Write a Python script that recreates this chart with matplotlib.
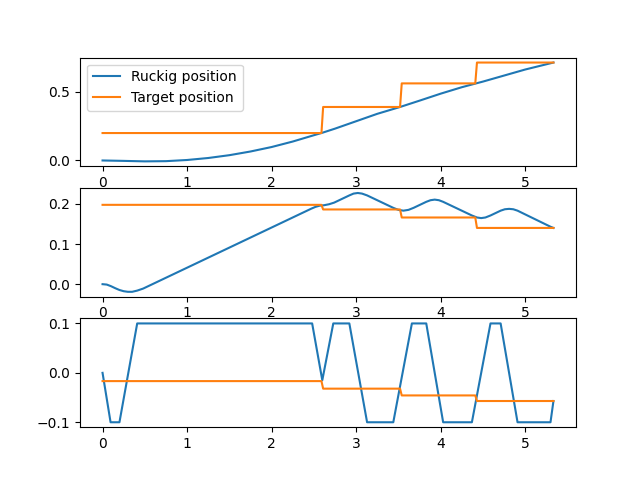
import matplotlib
matplotlib.use("Agg")
import matplotlib.pyplot as plt

# ruckig position
t_pos = [0, 0.25, 0.5, 0.75, 1.0, 1.25, 1.5, 1.75, 2.0, 2.25, 2.5, 2.59,
         2.75, 3.0, 3.25, 3.52, 3.75, 4.0, 4.25, 4.42, 4.5, 4.75, 5.0, 5.335]
pos = [0, -0.003, -0.0065, -0.005, 0.0035, 0.018, 0.0385, 0.0654, 0.098, 0.138,
       0.184, 0.2, 0.232, 0.286, 0.34, 0.39, 0.436, 0.487, 0.534, 0.562,
       0.575, 0.619, 0.663, 0.714]

# ruckig velocity
t_vel = [0, 0.05, 0.1, 0.15, 0.2, 0.25, 0.3, 0.35, 0.41, 0.48, 1.0, 1.5, 2.0,
         2.47, 2.52, 2.57, 2.62, 2.68, 2.74, 2.92, 2.97, 3.02, 3.07, 3.13,
         3.44, 3.5, 3.56, 3.62, 3.68, 3.83, 3.88, 3.93, 3.98, 4.03, 4.37,
         4.43, 4.48, 4.53, 4.59, 4.71, 4.76, 4.81, 4.86, 4.91, 5.30, 5.335]
vel = [0, -0.001, -0.005, -0.01, -0.0145, -0.0175, -0.019, -0.019, -0.016,
       -0.011, 0.041, 0.091, 0.141, 0.188, 0.1925, 0.1955, 0.1965, 0.199,
       0.203, 0.221, 0.2255, 0.227, 0.2255, 0.221, 0.19, 0.185, 0.183, 0.185,
       0.19, 0.205, 0.209, 0.2105, 0.209, 0.205, 0.171, 0.166, 0.1645, 0.166,
       0.171, 0.183, 0.1865, 0.1875, 0.1865, 0.183, 0.143, 0.14]

# ruckig acceleration
t_acc = [0, 0.095, 0.2, 0.41, 2.48, 2.6, 2.73, 2.92, 3.13, 3.44, 3.66, 3.83,
         4.03, 4.37, 4.59, 4.71, 4.91, 5.30, 5.335]
acc = [0, -0.1, -0.1, 0.1, 0.1, -0.015, 0.1, 0.1, -0.1, -0.1, 0.1, 0.1,
       -0.1, -0.1, 0.1, 0.1, -0.1, -0.1, -0.057]

# target signals (step changes)
t_target = [0, 2.59, 2.61, 3.52, 3.54, 4.41, 4.43, 5.335]
target_pos = [0.2, 0.2, 0.39, 0.39, 0.562, 0.562, 0.714, 0.714]
target_vel = [0.1975, 0.1975, 0.186, 0.186, 0.166, 0.166, 0.14, 0.14]
target_acc = [-0.0167, -0.0167, -0.032, -0.032, -0.0457, -0.0457, -0.057, -0.057]

fig, axs = plt.subplots(3, 1)

axs[0].plot(t_pos, pos, label="Ruckig position")
axs[0].plot(t_target, target_pos, label="Target position")
axs[0].legend(loc="upper left")

axs[1].plot(t_vel, vel)
axs[1].plot(t_target, target_vel)

axs[2].plot(t_acc, acc)
axs[2].plot(t_target, target_acc)

plt.savefig("out.png")
